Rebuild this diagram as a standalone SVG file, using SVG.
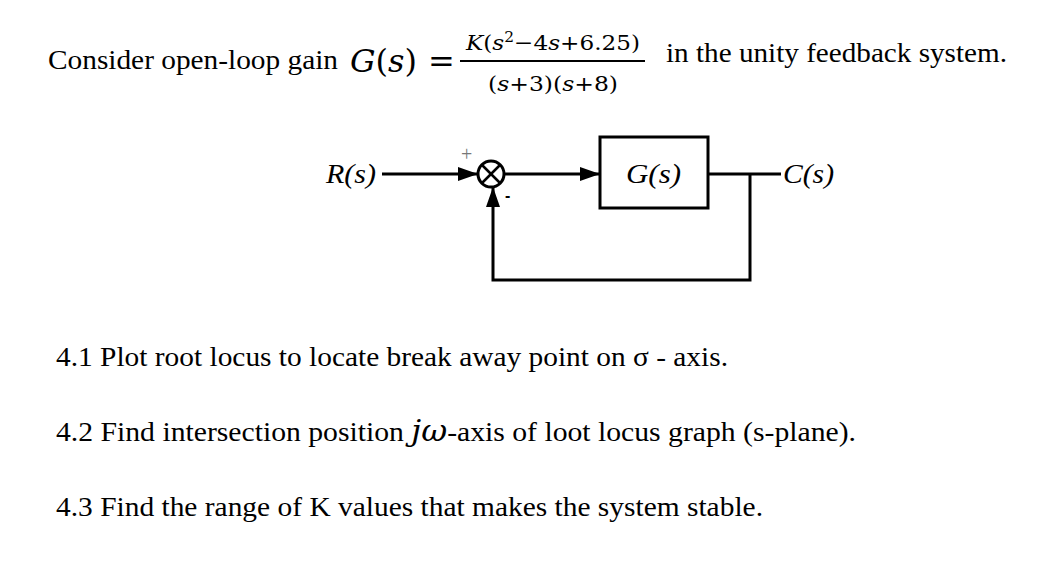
<svg xmlns="http://www.w3.org/2000/svg" width="1053" height="563" viewBox="0 0 1053 563">
<style>
.t{font-family:"Liberation Serif",serif;font-size:28px;fill:#000}
.m{font-family:"DejaVu Serif","Liberation Serif",serif;fill:#000}
.ln{stroke:#000;stroke-width:3;fill:none}
</style>
<defs>
<marker id="b" viewBox="0 0 10 10" refX="10" refY="5" markerWidth="20" markerHeight="14" markerUnits="userSpaceOnUse" orient="auto" preserveAspectRatio="none"><path d="M0,0L10,5L0,10z"/></marker></defs>
<rect width="1053" height="563" fill="#fff"/>
<g id="header">
<text class="t" x="48" y="69" textLength="290" lengthAdjust="spacingAndGlyphs">Consider open-loop gain</text>
<text class="m" x="350" y="72" font-size="32" textLength="67" lengthAdjust="spacingAndGlyphs"><tspan font-style="italic">G</tspan>(<tspan font-style="italic">s</tspan>)</text>
<text class="m" x="428" y="72" font-size="32">=</text>
<text class="m" x="466" y="50" font-size="21" textLength="174" lengthAdjust="spacingAndGlyphs"><tspan font-style="italic">K</tspan>(<tspan font-style="italic">s</tspan><tspan font-size="14" dy="-8">2</tspan><tspan dy="8">−4</tspan><tspan font-style="italic">s</tspan>+6.25)</text>
<line x1="460" y1="61" x2="645" y2="61" stroke="#000" stroke-width="2"/>
<text class="m" x="488" y="91" font-size="21" textLength="130" lengthAdjust="spacingAndGlyphs">(<tspan font-style="italic">s</tspan>+3)(<tspan font-style="italic">s</tspan>+8)</text>
<text class="t" x="666" y="62" textLength="341" lengthAdjust="spacingAndGlyphs">in the unity feedback system.</text>
</g>
<g id="R"><text class="t" x="326" y="183" font-style="italic" textLength="50" lengthAdjust="spacingAndGlyphs">R(s)</text></g>
<g id="sum">
<circle cx="491" cy="174" r="13" class="ln" stroke-width="2.5"/>
<line x1="482" y1="165" x2="500" y2="183" stroke="#000" stroke-width="2.5"/>
<line x1="500" y1="165" x2="482" y2="183" stroke="#000" stroke-width="2.5"/>
<text x="461" y="161" font-family="Liberation Serif,serif" font-size="20" fill="#777">+</text>
<text x="505" y="201" font-family="Liberation Sans,sans-serif" font-size="16" font-weight="bold">-</text>
</g>
<g id="G"><rect x="600" y="137" width="108" height="71" class="ln"/><text class="t" x="626" y="183" font-style="italic" textLength="55" lengthAdjust="spacingAndGlyphs">G(s)</text></g>
<g id="C"><text class="t" x="783" y="183" font-style="italic" textLength="51" lengthAdjust="spacingAndGlyphs">C(s)</text></g>
<g id="connectors" class="ln">
<line x1="382" y1="174" x2="478" y2="174" marker-end="url(#b)"/>
<line x1="504" y1="174" x2="600" y2="174" marker-end="url(#b)"/>
<line x1="708" y1="174" x2="781" y2="174"/>
<polyline points="750,174 750,280 493,280 493,187" marker-end="url(#b)"/>
</g>
<g id="questions">
<text class="t" x="56" y="366" textLength="672" lengthAdjust="spacingAndGlyphs">4.1 Plot root locus to locate break away point on σ - axis.</text>
<text class="t" x="56" y="441" textLength="800" lengthAdjust="spacingAndGlyphs">4.2 Find intersection position <tspan font-family="DejaVu Serif,serif" font-style="italic" font-size="30">jω</tspan>-axis of loot locus graph (s-plane).</text>
<text class="t" x="56" y="516" textLength="707" lengthAdjust="spacingAndGlyphs">4.3 Find the range of K values that makes the system stable.</text>
</g>
</svg>
